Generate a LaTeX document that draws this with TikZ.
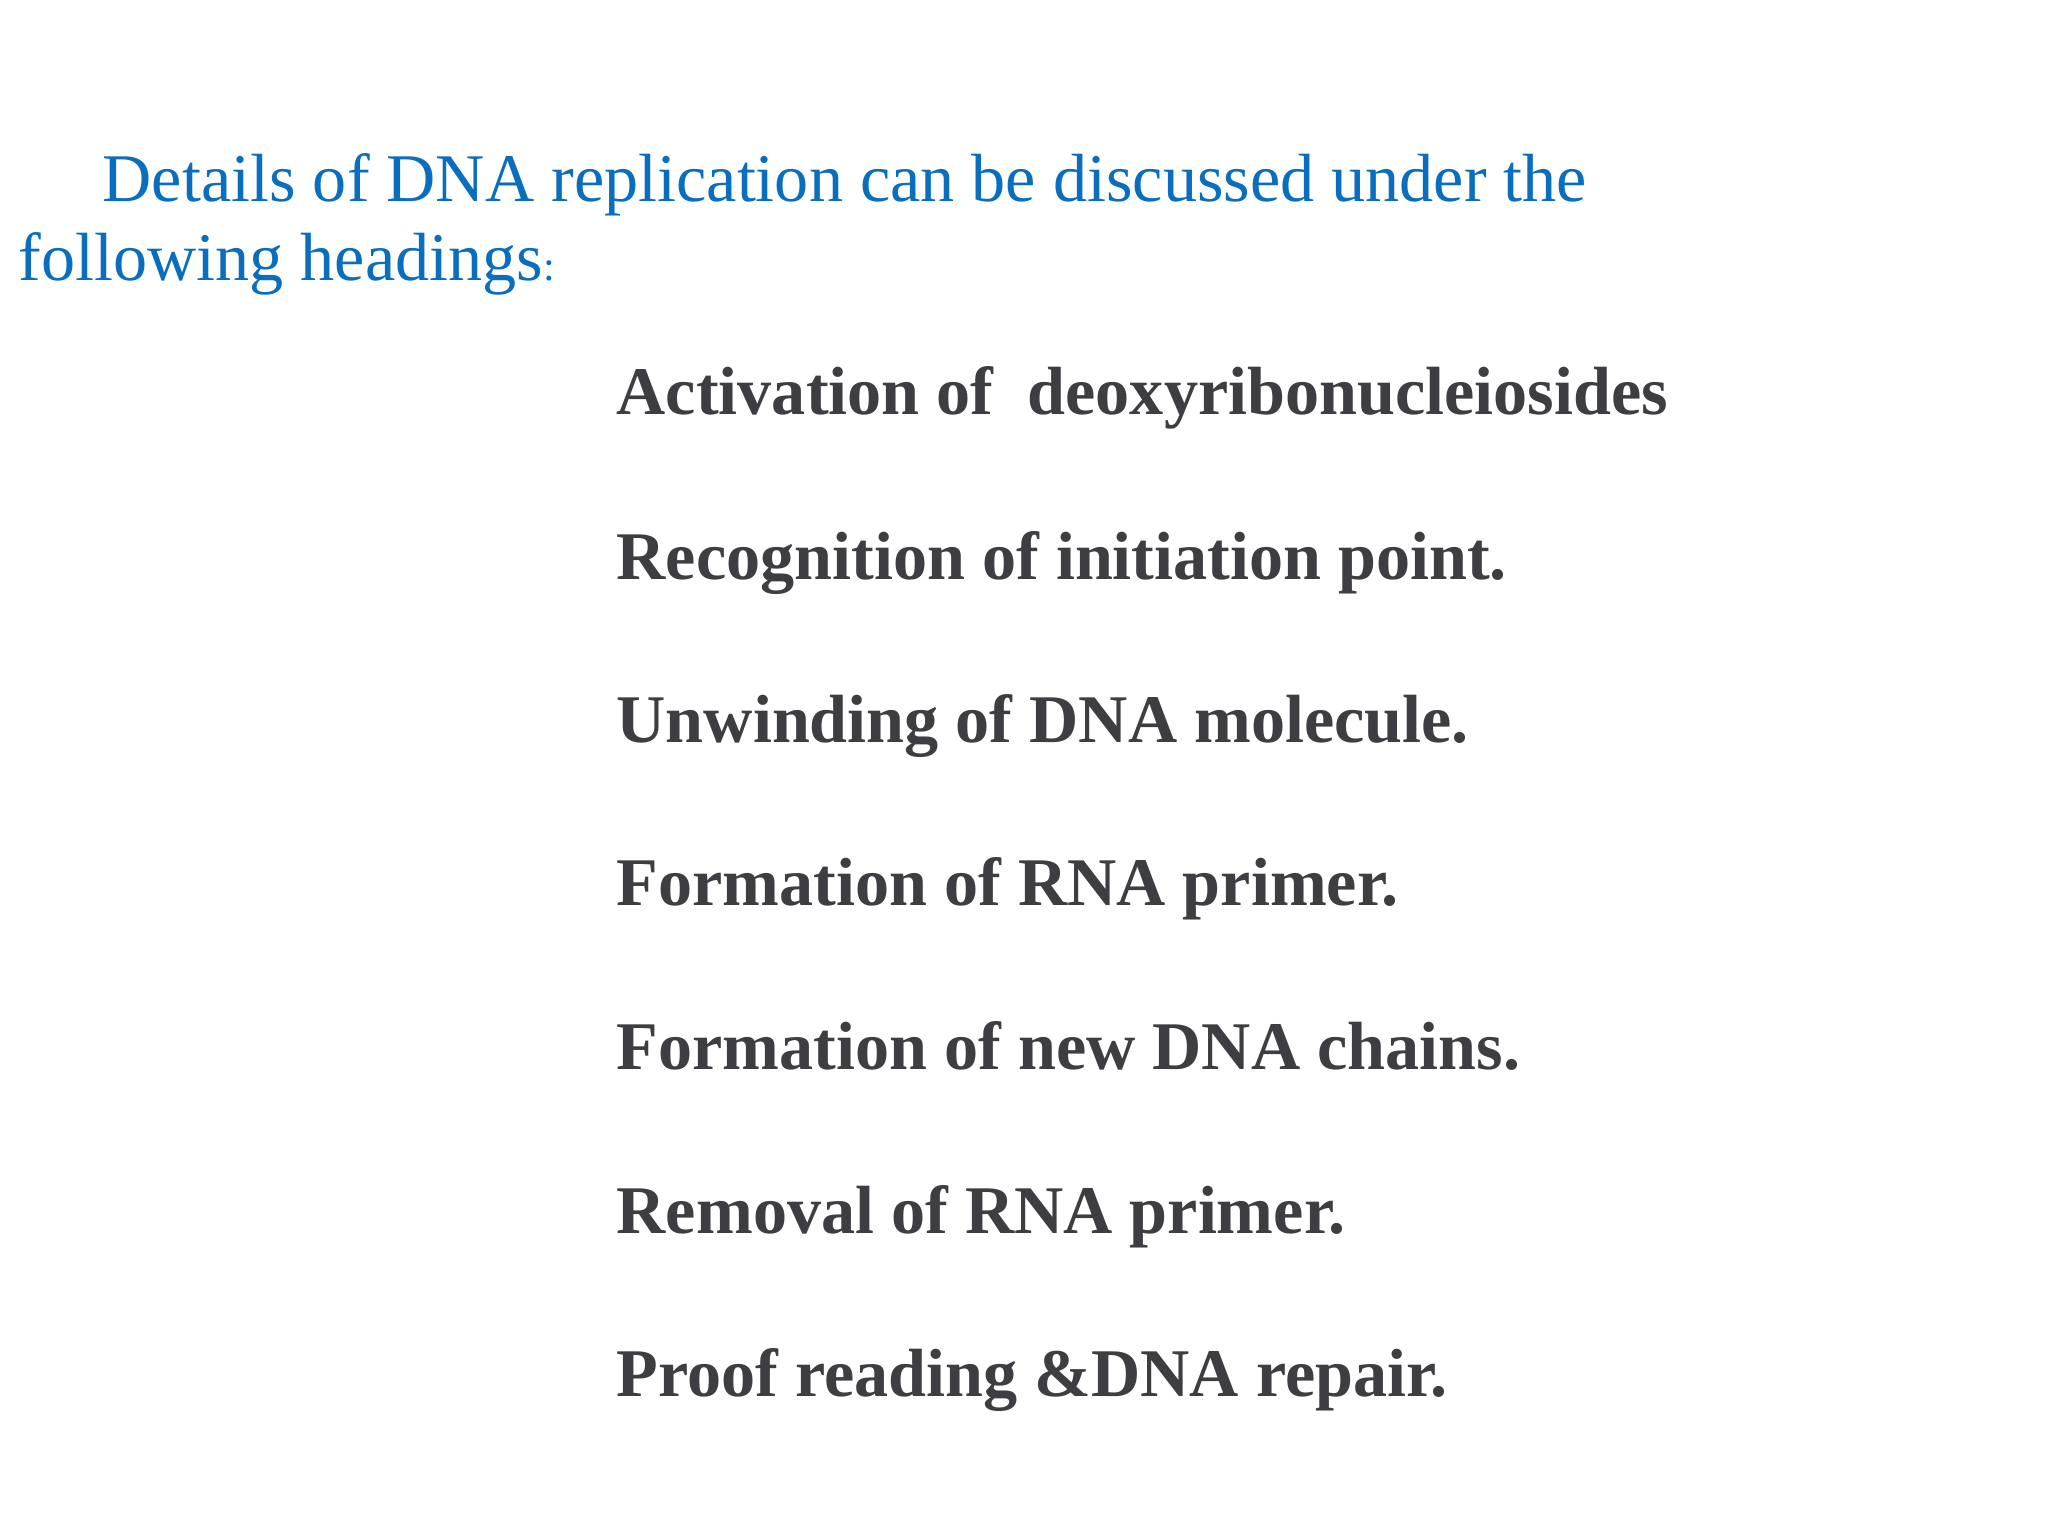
\documentclass[tikz,border=0pt]{standalone}
\usepackage{fontspec}
\setmainfont{Liberation Serif}
\definecolor{headblue}{RGB}{10,110,190}
\definecolor{itemgray}{RGB}{62,62,66}
\begin{document}
\begin{tikzpicture}
\useasboundingbox (0,0) rectangle (20.48,15.36);
\tikzset{head/.style={anchor=base west,inner sep=0pt,text=headblue,font=\fontsize{19.4pt}{23pt}\selectfont},
item/.style={anchor=base west,inner sep=0pt,text=itemgray,font=\fontsize{19.4pt}{23pt}\selectfont\bfseries}}
\node[head] (h1) at (1.02,13.34) {Details of DNA replication can be discussed under the};
\node[head] (h2) at (0.18,12.55) {following headings{\fontsize{12pt}{14pt}\selectfont:}};
\node[item] (i1) at (6.16,11.21) {Activation of \ deoxyribonucleiosides};
\node[item] (i2) at (6.16,9.56) {Recognition of initiation point.};
\node[item] (i3) at (6.16,7.93) {Unwinding of DNA molecule.};
\node[item] (i4) at (6.16,6.30) {Formation of RNA primer.};
\node[item] (i5) at (6.16,4.66) {Formation of new DNA chains.};
\node[item] (i6) at (6.16,3.02) {Removal of RNA primer.};
\node[item] (i7) at (6.16,1.39) {Proof reading \&DNA repair.};
\end{tikzpicture}
\end{document}
